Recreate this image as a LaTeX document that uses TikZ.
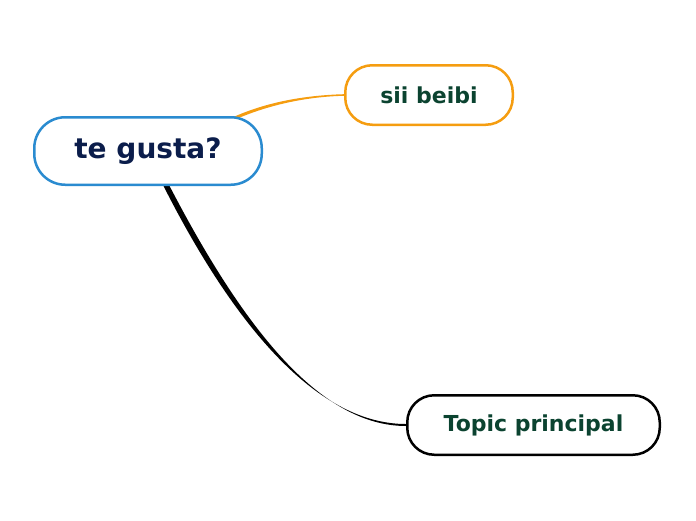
\documentclass[tikz,border=0pt]{standalone}
\usepackage{fontspec}
\setmainfont{DejaVu Sans}
\usetikzlibrary{backgrounds}
\definecolor{mainblue}{HTML}{2A8BD0}
\definecolor{sunorange}{HTML}{F59D10}
\definecolor{navytext}{HTML}{0B1D4B}
\definecolor{greentext}{HTML}{0B4330}

\begin{document}
\begin{tikzpicture}[x=1pt,y=-1pt]
        \tikzstyle{every node}=[draw, rectangle, line width=2.5pt, fill=white, font=\bfseries\fontsize{22}{26}\selectfont, text=greentext]
        \tikzstyle{topic}=[minimum width=167.5pt, minimum height=59.5pt, rounded corners=27pt]
        \useasboundingbox (0,0) rectangle (696,520);

        \node   (main)   at (148,151)   [draw=mainblue, minimum width=227.5pt, minimum height=67.5pt, rounded corners=31pt, text=navytext, font=\bfseries\fontsize{28}{32}\selectfont] {te gusta?};
        \node   (sii)    at (429,95)    [topic, draw=sunorange] {sii beibi};
        \node   (topic)  at (533.5,425) [topic, draw=black, minimum width=252.5pt] {Topic principal};

        \begin{scope}[on background layer]
            % tapered branches
            \fill[sunorange] ([xshift=79pt,yshift=-4pt]main.north) .. controls (264,102) and (305,95.3) .. ([yshift=0.8pt]sii.west)
                -- ([yshift=-0.8pt]sii.west) .. controls (306,96.7) and (268,105) .. ([xshift=86pt,yshift=-4pt]main.north) -- cycle;
            \fill[black] ([xshift=14pt,yshift=3pt]main.south) .. controls (237,332) and (320,424.1) .. ([yshift=1pt]topic.west)
                -- ([yshift=-1pt]topic.west) .. controls (320,425.9) and (243,328) .. ([xshift=20pt,yshift=3pt]main.south) -- cycle;
        \end{scope}

    \end{tikzpicture}
\end{document}
